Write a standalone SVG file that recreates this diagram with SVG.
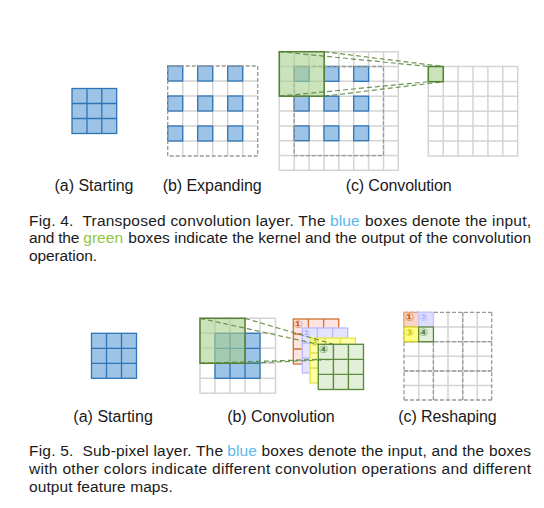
<svg xmlns="http://www.w3.org/2000/svg" width="544" height="508" viewBox="0 0 544 508">
<style>
text{font-family:"Liberation Sans",Arial,sans-serif;fill:#1a1a1a}
.sub{font-size:16px}
.cap{font-size:15.5px}
.gl{fill:none;stroke:#d4d4d4;stroke-width:1.5}
.dash{fill:none;stroke:#999;stroke-width:1.3;stroke-dasharray:4 2}
.bl{fill:#9dc3e6;stroke:#2e75b6;stroke-width:1.3}
.blg{fill:none;stroke:#2e75b6;stroke-width:1.3}
.gr{fill:#a9d18e;fill-opacity:.6;stroke:#548235;stroke-width:1.5}
.con{fill:none;stroke:#548235;stroke-opacity:.85;stroke-width:1.2;stroke-dasharray:5 3}
.num{font-family:"DejaVu Sans",sans-serif;font-size:10.5px;text-anchor:middle;font-weight:bold}
</style>
<rect width="544" height="508" fill="#fff"/>

<g id="fig4a-starting">
<rect class="bl" x="72" y="88.5" width="44.7" height="45"/>
<path class="blg" d="M87 88.5V133.5M101.8 88.5V133.5M72 103.5H116.7M72 118.5H116.7"/>
</g>

<g id="fig4b-expanding">
<path class="gl" d="M182.7 66V156M197.7 66V156M212.7 66V156M227.7 66V156M242.7 66V156M167.7 81H257.7M167.7 96H257.7M167.7 111H257.7M167.7 126H257.7M167.7 141H257.7"/>
<rect class="bl" x="167.7" y="66" width="15" height="15"/><rect class="bl" x="197.7" y="66" width="15" height="15"/><rect class="bl" x="227.7" y="66" width="15" height="15"/>
<rect class="bl" x="167.7" y="96" width="15" height="15"/><rect class="bl" x="197.7" y="96" width="15" height="15"/><rect class="bl" x="227.7" y="96" width="15" height="15"/>
<rect class="bl" x="167.7" y="126" width="15" height="15"/><rect class="bl" x="197.7" y="126" width="15" height="15"/><rect class="bl" x="227.7" y="126" width="15" height="15"/>
<rect class="dash" x="167.7" y="66" width="90" height="90"/>
</g>

<g id="fig4c-input">
<path class="gl" d="M279.3 51.7H398.3V170.3H279.3ZM294.2 51.7V170.3M309.1 51.7V170.3M324 51.7V170.3M338.8 51.7V170.3M353.7 51.7V170.3M368.6 51.7V170.3M383.5 51.7V170.3M279.3 66.5H398.3M279.3 81.3H398.3M279.3 96.2H398.3M279.3 111H398.3M279.3 125.9H398.3M279.3 140.7H398.3M279.3 155.6H398.3"/>
<rect class="bl" x="294.2" y="66.5" width="14.9" height="14.8"/><rect class="bl" x="324" y="66.5" width="14.8" height="14.8"/><rect class="bl" x="353.7" y="66.5" width="14.9" height="14.8"/>
<rect class="bl" x="294.2" y="96.2" width="14.9" height="14.8"/><rect class="bl" x="324" y="96.2" width="14.8" height="14.8"/><rect class="bl" x="353.7" y="96.2" width="14.9" height="14.8"/>
<rect class="bl" x="294.2" y="125.9" width="14.9" height="14.8"/><rect class="bl" x="324" y="125.9" width="14.8" height="14.8"/><rect class="bl" x="353.7" y="125.9" width="14.9" height="14.8"/>
<rect class="dash" x="294.2" y="66.5" width="89.3" height="89.1"/>
<rect class="gr" x="279.3" y="51.7" width="44.9" height="44.5"/>
</g>

<g id="fig4c-output">
<path class="gl" d="M428.3 66.5H517.7V156H428.3ZM443.2 66.5V156M458.1 66.5V156M473 66.5V156M487.9 66.5V156M502.8 66.5V156M428.3 81.4H517.7M428.3 96.3H517.7M428.3 111.2H517.7M428.3 126.1H517.7M428.3 141H517.7"/>
<rect class="gr" x="428.3" y="66.5" width="15" height="15.2"/>
</g>

<g id="fig4-captions">
<text class="sub" x="54.5" y="191" textLength="79">(a) Starting</text>
<text class="sub" x="162.7" y="191" textLength="99">(b) Expanding</text>
<text class="sub" x="345.7" y="191" textLength="106">(c) Convolution</text>
<text class="cap" x="29" y="225.5" textLength="296.5" xml:space="preserve">Fig. 4.  Transposed convolution layer. The</text>
<text class="cap" x="330" y="225.5" textLength="29.5" style="fill:#5bb8ea">blue</text>
<text class="cap" x="365" y="225.5" textLength="166">boxes denote the input,</text>
<text class="cap" x="29" y="243.3" textLength="50.3">and the</text>
<text class="cap" x="83.3" y="243.3" textLength="39.7" style="fill:#8cc63f">green</text>
<text class="cap" x="128.3" y="243.3" textLength="402.7">boxes indicate the kernel and the output of the convolution</text>
<text class="cap" x="29" y="261" textLength="68">operation.</text>
</g>

<g id="fig5a-starting">
<rect class="bl" x="91.5" y="333.3" width="45" height="45"/>
<path class="blg" d="M106.5 333.3V378.3M121.5 333.3V378.3M91.5 348.3H136.5M91.5 363.3H136.5"/>
</g>

<g id="fig5b-input">
<path class="gl" d="M200 318.3H275.5V393.3H200ZM215 318.3V393.3M230 318.3V393.3M245 318.3V393.3M260 318.3V393.3M200 333.3H275.5M200 348.3H275.5M200 363.3H275.5M200 378.3H275.5"/>
<rect class="bl" x="215" y="333.3" width="45" height="45"/>
<path class="blg" d="M230 333.3V378.3M245 333.3V378.3M215 348.3H260M215 363.3H260"/>
<rect class="gr" x="200" y="318.3" width="45" height="45"/>
</g>

<g id="fig5b-map1" fill="#fde4e0" stroke="#d2702f" stroke-width="1.3">
<rect x="293.3" y="319" width="45.4" height="45"/>
<path fill="none" d="M308.4 319V364M323.6 319V364M293.3 334H338.7M293.3 349H338.7"/>
<text class="num" x="298.3" y="327.8" style="fill:#c55a11;stroke:none">①</text>
</g>
<g id="fig5b-map2" fill="#e4e4ff" stroke="#b9b9ff" stroke-width="1.3">
<rect x="302.3" y="328" width="45.4" height="45"/>
<path fill="none" d="M317.4 328V373M332.6 328V373M302.3 343H347.7M302.3 358H347.7"/>
<text class="num" x="306" y="336.5" style="fill:#b0b0ff;stroke:none">②</text>
</g>
<g id="fig5b-map3" fill="#ffffa0" stroke="#e2e24a" stroke-width="1.3">
<rect x="310" y="338" width="45.4" height="45"/>
<path fill="none" d="M325.1 338V383M340.3 338V383M310 353H355.4M310 368H355.4"/>
<text class="num" x="315" y="346" style="fill:#cccc20;stroke:none">③</text>
</g>
<g id="fig5b-map4" fill="#e2f0d9" stroke="#5f8a40" stroke-width="1.4">
<rect x="318.3" y="344.3" width="45.2" height="45.2"/>
<path fill="none" d="M333.4 344.3V389.5M348.4 344.3V389.5M318.3 359.4H363.5M318.3 374.4H363.5"/>
<text class="num" x="323.5" y="352.8" style="fill:#548235;stroke:none">④</text>
</g>

<g id="fig5c-reshaping">
<path class="gl" d="M418.7 312.3V400M433.4 312.3V400M448 312.3V400M462.7 312.3V400M477.3 312.3V400M404 327H491.7M404 341.7H491.7M404 356.3H491.7M404 371H491.7M404 385.6H491.7"/>
<path class="dash" d="M404 312.3H491.7M404 341.7H491.7M404 371H491.7M404 400H491.7M404 312.3V400M433.4 312.3V400M462.7 312.3V400M491.7 312.3V400"/>
<rect x="404" y="312.3" width="14.7" height="14.7" fill="#f8d5c4" stroke="#e3a27c" stroke-width="1.2"/>
<rect x="418.7" y="312.3" width="14.7" height="14.7" fill="#dedeff" stroke="#c4c4ff" stroke-width="1.2"/>
<rect x="404" y="327" width="14.7" height="14.7" fill="#ffff80" stroke="#cfcf20" stroke-width="1.2"/>
<rect x="418.7" y="327" width="14.7" height="14.7" fill="#e2f0d9" stroke="#548235" stroke-width="1.2"/>
<text class="num" x="409.5" y="321" style="fill:#c55a11">①</text>
<text class="num" x="423.5" y="321" style="fill:#b0b0ff">②</text>
<text class="num" x="409.5" y="335.7" style="fill:#c8c820">③</text>
<text class="num" x="423.5" y="335.7" style="fill:#548235">④</text>
</g>

<g id="fig5-captions">
<text class="sub" x="73.3" y="421.7" textLength="79.5">(a) Starting</text>
<text class="sub" x="227.3" y="421.7" textLength="107.4">(b) Convolution</text>
<text class="sub" x="398.3" y="421.7" textLength="98.4">(c) Reshaping</text>
<text class="cap" x="29" y="456" textLength="194" xml:space="preserve">Fig. 5.  Sub-pixel layer. The</text>
<text class="cap" x="227.3" y="456" textLength="29.5" style="fill:#5bb8ea">blue</text>
<text class="cap" x="261.5" y="456" textLength="269.5">boxes denote the input, and the boxes</text>
<text class="cap" x="29" y="474" textLength="502">with other colors indicate different convolution operations and different</text>
<text class="cap" x="29" y="491.8" textLength="143.7">output feature maps.</text>
</g>

<g id="connectors">
<path class="con" d="M279.3 51.7L428.3 66.5M324.2 51.7L443.3 66.5M279.3 96.2L428.3 81.7M324.2 96.2L443.3 81.7"/>
<path class="con" d="M200 318.3L318.3 344.3M245 318.3L333.4 344.3M200 363.3L318.3 359.4M245 363.3L333.4 359.4"/>
</g>
</svg>
